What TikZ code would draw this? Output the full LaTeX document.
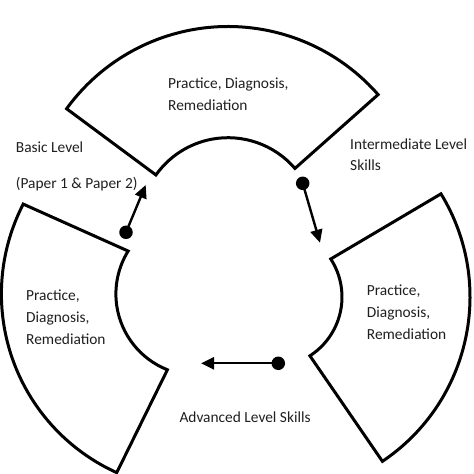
\documentclass[tikz,border=0pt]{standalone}
\usepackage{fontspec}
\setmainfont{Carlito}
\usetikzlibrary{arrows.meta,calc}
\begin{document}
\begin{tikzpicture}[x=1pt,y=1pt,
  sector/.style={draw=black,line width=3pt,line join=miter,fill=white},
  lbl/.style={anchor=base west,inner sep=0pt,font=\fontsize{15.4}{18}\selectfont,text=black!88},
  dotnode/.style={circle,fill=black,inner sep=0pt,minimum size=13.5pt},
  link/.style={line width=2.4pt,-{Triangle[length=13pt,width=12pt]}}]
\useasboundingbox (0,0) rectangle (474,474);
% centres of the three block arcs
\coordinate (T) at (228,248);
\coordinate (L) at (197.4,180);
\coordinate (R) at (272,177);
% top sector
\draw[sector] ($(T)+(144:199.5)$) arc[start angle=144,end angle=41.2,radius=199.5]
  -- ($(T)+(40.7:88.3)$) arc[start angle=40.7,end angle=144.7,radius=88.3] -- cycle;
% left sector
\draw[sector] ($(L)+(152.7:196)$) arc[start angle=152.7,end angle=245.7,radius=196]
  -- ($(L)+(248.4:81.5)$) arc[start angle=248.4,end angle=148.2,radius=81.5] -- cycle;
% right sector
\draw[sector] ($(R)+(31.4:198)$) arc[start angle=31.4,end angle=-56.1,radius=198]
  -- ($(R)+(-57.2:70)$) arc[start angle=-57.2,end angle=32.9,radius=70] -- cycle;
% texts
\node[lbl] (top1) at (168,385.7) {Practice, Diagnosis,};
\node[lbl] (top2) at (168,363.3) {Remediation};
\node[lbl] (bas1) at (15.7,321.3) {Basic Level};
\node[lbl] (bas2) at (15.7,285.7) {(Paper 1 \& Paper 2)};
\node[lbl] (int1) at (350,324) {Intermediate Level};
\node[lbl] (int2) at (350,303) {Skills};
\node[lbl] (lft1) at (26,173) {Practice,};
\node[lbl] (lft2) at (26,151.3) {Diagnosis,};
\node[lbl] (lft3) at (26,129) {Remediation};
\node[lbl] (rgt1) at (366.7,178) {Practice,};
\node[lbl] (rgt2) at (366.7,156.3) {Diagnosis,};
\node[lbl] (rgt3) at (366.7,134.7) {Remediation};
\node[lbl] (adv) at (179.3,51) {Advanced Level Skills};
% arrows
\node[dotnode] (d1) at (126,241.7) {};
\coordinate (e1) at (145.7,289);
\node[dotnode] (d2) at (302.7,290.7) {};
\coordinate (e2) at (320,231.3);
\node[dotnode] (d3) at (278.3,110.7) {};
\coordinate (e3) at (201,110.7);
\draw[link] (d1.center) -- (e1);
\draw[link] (d2.center) -- (e2);
\draw[link] (d3.center) -- (e3);
\end{tikzpicture}
\end{document}
